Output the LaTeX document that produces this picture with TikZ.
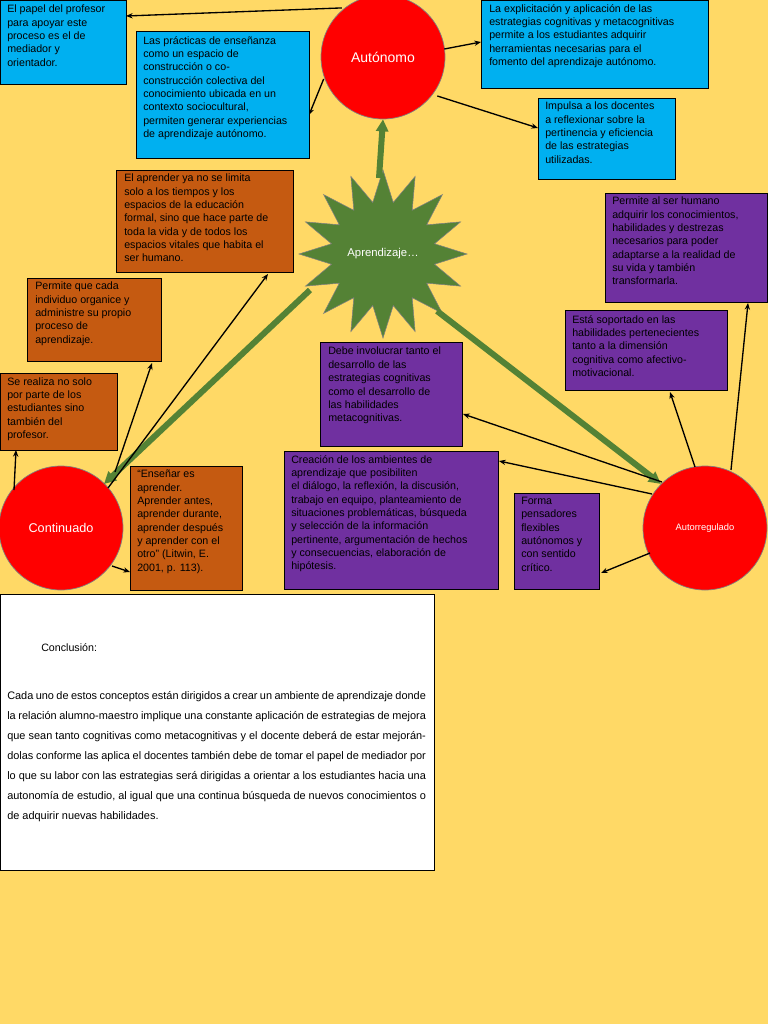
\documentclass[tikz,border=0pt]{standalone}
\usepackage{fontspec}
\setmainfont{Liberation Sans}
\usetikzlibrary{shapes.geometric,arrows.meta}
\definecolor{bg}{HTML}{FFD966}
\definecolor{cblue}{HTML}{00B0F0}
\definecolor{corange}{HTML}{C55A11}
\definecolor{cpurple}{HTML}{7030A0}
\definecolor{cgreen}{HTML}{548235}
\begin{document}
\begin{tikzpicture}[x=0.75pt,y=-0.75pt,
  txt/.style={font=\fontsize{8}{10}\selectfont,align=left,anchor=north west,inner sep=0pt},
  box/.style={draw=black,line width=0.6pt},
  circ/.style={circle,fill=red,draw=gray,line width=0.5pt,minimum size=93pt,inner sep=0pt,text=white},
  thin/.style={-{Stealth[length=5pt,width=4pt]},line width=1pt},
  thick/.style={-{Triangle[length=9pt,width=9pt]},line width=4.5pt,draw=cgreen,color=cgreen}]
\fill[bg] (0,0) rectangle (768,1024);
\useasboundingbox (0,0) rectangle (768,1024);
% blue boxes
\draw[box,fill=cblue] (0,0) rectangle (126,84);
\node[txt] (b1) at (7,5) {El papel del profesor\\para apoyar este\\proceso es el de\\mediador y\\orientador.};
\draw[box,fill=cblue] (136,31) rectangle (309,158);
\node[txt] (b2) at (143,36) {Las prácticas de enseñanza\\como un espacio de\\construcción o co-\\construcción colectiva del\\conocimiento ubicada en un\\contexto sociocultural,\\permiten generar experiencias\\de aprendizaje autónomo.};
\draw[box,fill=cblue] (481,0) rectangle (708,88);
\node[txt] (b3) at (489,4) {La explicitación y aplicación de las\\estrategias cognitivas y metacognitivas\\permite a los estudiantes adquirir\\herramientas necesarias para el\\fomento del aprendizaje autónomo.};
\draw[box,fill=cblue] (538,98) rectangle (675,179);
\node[txt] (b4) at (545,102) {Impulsa a los docentes\\a reflexionar sobre la\\pertinencia y eficiencia\\de las estrategias\\utilizadas.};
% orange boxes
\draw[box,fill=corange] (116,170) rectangle (293,272);
\node[txt] (o1) at (124,174) {El aprender ya no se limita\\solo a los tiempos y los\\espacios de la educación\\formal, sino que hace parte de\\toda la vida y de todos los\\espacios vitales que habita el\\ser humano.};
\draw[box,fill=corange] (27,278) rectangle (161,361);
\node[txt] (o2) at (35,282) {Permite que cada\\individuo organice y\\administre su propio\\proceso de\\aprendizaje.};
\draw[box,fill=corange] (0,373) rectangle (117,450);
\node[txt] (o3) at (7,377) {Se realiza no solo\\por parte de los\\estudiantes sino\\también del\\profesor.};
\draw[box,fill=corange] (130,466) rectangle (242,590);
\node[txt] (o4) at (137,470) {“Enseñar es\\aprender.\\Aprender antes,\\aprender durante,\\aprender después\\y aprender con el\\otro” (Litwin, E.\\2001, p. 113).};
% purple boxes
\draw[box,fill=cpurple] (605,193) rectangle (767,302);
\node[txt] (p1) at (612,197) {Permite al ser humano\\adquirir los conocimientos,\\habilidades y destrezas\\necesarios para poder\\adaptarse a la realidad de\\su vida y también\\transformarla.};
\draw[box,fill=cpurple] (565,310) rectangle (727,390);
\node[txt] (p2) at (572,315) {Está soportado en las\\habilidades pertenecientes\\tanto a la dimensión\\cognitiva como afectivo-\\motivacional.};
\draw[box,fill=cpurple] (320,342) rectangle (462,446);
\node[txt] (p3) at (328,347) {Debe involucrar tanto el\\desarrollo de las\\estrategias cognitivas\\como el desarrollo de\\las habilidades\\metacognitivas.};
\draw[box,fill=cpurple] (284,451) rectangle (498,589);
\node[txt] (p4) at (291,455) {Creación de los ambientes de\\aprendizaje que posibiliten\\el diálogo, la reflexión, la discusión,\\trabajo en equipo, planteamiento de\\situaciones problemáticas, búsqueda\\y selección de la información\\pertinente, argumentación de hechos\\y consecuencias, elaboración de\\hipótesis.};
\draw[box,fill=cpurple] (514,493) rectangle (599,589);
\node[txt] (p5) at (521,497) {Forma\\pensadores\\flexibles\\autónomos y\\con sentido\\crítico.};
% circles and star
\node[circ,font=\fontsize{10.5}{12}\selectfont] (aut) at (383,57) {Autónomo};
\node[circ,font=\fontsize{9.5}{12}\selectfont] (con) at (61,528) {Continuado};
\node[circ,font=\fontsize{7}{9}\selectfont] (reg) at (705,528) {Autorregulado};
\node[star,star points=16,star point ratio=1.6,fill=cgreen,draw=gray,line width=0.4pt,minimum size=126pt,inner sep=0pt,text=white,font=\fontsize{8.5}{10}\selectfont] (star) at (383,254) {Aprendizaje…};
% coordinates
\coordinate (s1) at (379,178); \coordinate (s2) at (437,311); \coordinate (s3) at (310,290);
\draw[thick] (s1) -- (aut.south);
\draw[thick] (s2) -- (reg.north west);
\draw[thick] (s3) -- (104,484);
% arrows from Autónomo
\draw[thin] (aut.north west) ++(3,-5) -- (126,16);
\draw[thin] (aut.west) ++(3,22) -- (309,115);
\draw[thin] (aut.east) ++(-1,-8) -- (481,42);
\draw[thin] (aut.east) ++(-8,39) -- (538,128);
% arrows from Continuado
\draw[thin] (108,488) -- (268,274);
\draw[thin] (115,472) -- (152,363);
\draw[thin] (14,490) -- (16,450);
\draw[thin] (112,566) -- (130,572);
% arrows from Autorregulado
\draw[thin] (662,482) -- (463,414);
\draw[thin] (652,494) -- (499,461);
\draw[thin] (650,553) -- (601,573);
\draw[thin] (695,467) -- (670,392);
\draw[thin] (731,470) -- (748,303);
% conclusion
\draw[box,fill=white,line width=0.5pt] (0,594) rectangle (434,870);
\node[txt] (ct) at (41,643) {Conclusión:};
\node[txt,text width=314pt,align=justify,font=\fontsize{8.2}{15}\selectfont] (cp) at (7,691) {Cada uno de estos conceptos están dirigidos a crear un ambiente de aprendizaje donde la relación alumno-maestro implique una constante aplicación de estrategias de mejora que sean tanto cognitivas como metacognitivas y el docente deberá de estar mejorándolas conforme las aplica el docentes también debe de tomar el papel de mediador por lo que su labor con las estrategias será dirigidas a orientar a los estudiantes hacia una autonomía de estudio, al igual que una continua búsqueda de nuevos conocimientos o de adquirir nuevas habilidades.};
\end{tikzpicture}
\end{document}
